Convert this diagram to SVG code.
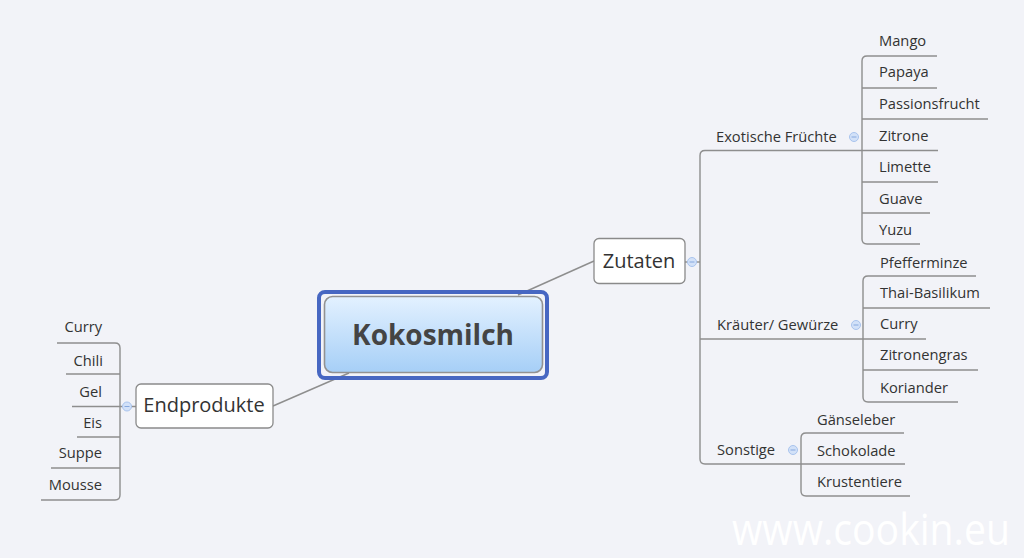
<svg xmlns="http://www.w3.org/2000/svg" width="1024" height="558" viewBox="0 0 1024 558">
<defs>
<linearGradient id="cg" x1="0" y1="0" x2="0" y2="1">
<stop offset="0" stop-color="#e3f1ff"/>
<stop offset="1" stop-color="#a6cff7"/>
</linearGradient>
<style>
.ln{fill:none;stroke:#8e8e8e;stroke-width:1.4}
.t{font-family:"Open Sans","Noto Sans",sans-serif;font-size:14.7px;fill:#333}
.tr{font-family:"Open Sans","Noto Sans",sans-serif;font-size:14.7px;fill:#333;text-anchor:end}
.box{fill:#fff;stroke:#8a8a8a;stroke-width:1.3}
.bt{font-family:"Open Sans","Noto Sans",sans-serif;font-size:20px;fill:#333;text-anchor:middle}
.cc{fill:#d2e1f8;stroke:#a9c4ee;stroke-width:1}
.cm{stroke:#86a8de;stroke-width:1}
</style>
</defs>
<rect width="1024" height="558" fill="#f2f3f8"/>
<g id="connectors">
<line class="ln" x1="518" y1="295" x2="594" y2="261"/>
<line class="ln" x1="349" y1="373" x2="273" y2="406"/>
<line class="ln" x1="685" y1="262" x2="700" y2="262"/>
<path class="ln" d="M938,150.5 H705 Q700,150.5 700,155.5 V459 Q700,464 705,464 H905"/>
<path class="ln" d="M937,56 H867 Q862,56 862,61 V239 Q862,244 867,244 H920"/>
<line class="ln" x1="862" y1="88" x2="937" y2="88"/>
<line class="ln" x1="862" y1="119" x2="988" y2="119"/>
<line class="ln" x1="862" y1="182" x2="938" y2="182"/>
<line class="ln" x1="862" y1="213" x2="930" y2="213"/>
<path class="ln" d="M976,276 H868 Q863,276 863,281 V397 Q863,402 868,402 H958"/>
<line class="ln" x1="863" y1="308" x2="990" y2="308"/>
<line class="ln" x1="700" y1="339" x2="926" y2="339"/>
<line class="ln" x1="863" y1="370" x2="978" y2="370"/>
<path class="ln" d="M904,433 H806 Q801,433 801,438 V491 Q801,496 806,496 H910"/>
<path class="ln" d="M57,343 H115 Q120,343 120,348 V495 Q120,500 115,500 H41"/>
<line class="ln" x1="66" y1="374" x2="120" y2="374"/>
<line class="ln" x1="72" y1="406.5" x2="136" y2="406.5"/>
<line class="ln" x1="77" y1="437" x2="120" y2="437"/>
<line class="ln" x1="51" y1="468" x2="120" y2="468"/>
</g>
<g id="kokosmilch">
<rect x="319" y="292" width="228" height="86" rx="6" fill="none" stroke="#4767c2" stroke-width="4"/>
<rect x="324.5" y="296.5" width="218" height="76" rx="8" fill="url(#cg)" stroke="#929292" stroke-width="1.6"/>
<text x="433" y="345" font-family="'Open Sans','Noto Sans',sans-serif" font-size="28" font-weight="bold" fill="#444" text-anchor="middle">Kokosmilch</text>
</g>
<g id="zutaten">
<rect class="box" x="594" y="238.5" width="91" height="45" rx="5"/>
<text class="bt" x="639" y="268">Zutaten</text>
<circle class="cc" cx="692" cy="262" r="4.5"/><line class="cm" x1="689.5" y1="262" x2="694.5" y2="262"/>
</g>
<g id="endprodukte">
<rect class="box" x="136" y="384" width="137" height="44" rx="5"/>
<text class="bt" x="204" y="412">Endprodukte</text>
<circle class="cc" cx="127" cy="406.5" r="4.5"/><line class="cm" x1="124.5" y1="406.5" x2="129.5" y2="406.5"/>
</g>
<g id="exotische">
<text class="t" x="716" y="142">Exotische Früchte</text>
<circle class="cc" cx="854" cy="137" r="4.5"/><line class="cm" x1="851.5" y1="137" x2="856.5" y2="137"/>
</g>
<g id="exotische-children">
<text class="t" x="879" y="46">Mango</text>
<text class="t" x="879" y="77">Papaya</text>
<text class="t" x="879" y="109">Passionsfrucht</text>
<text class="t" x="879" y="141">Zitrone</text>
<text class="t" x="879" y="172">Limette</text>
<text class="t" x="879" y="204">Guave</text>
<text class="t" x="879" y="235">Yuzu</text>
</g>
<g id="kraeuter">
<text class="t" x="717" y="330">Kräuter/ Gewürze</text>
<circle class="cc" cx="856" cy="325" r="4.5"/><line class="cm" x1="853.5" y1="325" x2="858.5" y2="325"/>
</g>
<g id="kraeuter-children">
<text class="t" x="880" y="268">Pfefferminze</text>
<text class="t" x="880" y="298">Thai-Basilikum</text>
<text class="t" x="880" y="329">Curry</text>
<text class="t" x="880" y="360">Zitronengras</text>
<text class="t" x="880" y="393">Koriander</text>
</g>
<g id="sonstige">
<text class="t" x="717" y="455">Sonstige</text>
<circle class="cc" cx="793" cy="450" r="4.5"/><line class="cm" x1="790.5" y1="450" x2="795.5" y2="450"/>
</g>
<g id="sonstige-children">
<text class="t" x="817" y="425">Gänseleber</text>
<text class="t" x="817" y="456">Schokolade</text>
<text class="t" x="817" y="487">Krustentiere</text>
</g>
<g id="endprodukte-children">
<text class="tr" x="102" y="332">Curry</text>
<text class="tr" x="103" y="366">Chili</text>
<text class="tr" x="102" y="397">Gel</text>
<text class="tr" x="102" y="428">Eis</text>
<text class="tr" x="102" y="458">Suppe</text>
<text class="tr" x="102" y="490">Mousse</text>
</g>
<text transform="translate(732,545) scale(0.89,1)" x="0" y="0" font-family="'Open Sans','Noto Sans',sans-serif" font-size="44" fill="#ffffff">www.cookin.eu</text>
</svg>
